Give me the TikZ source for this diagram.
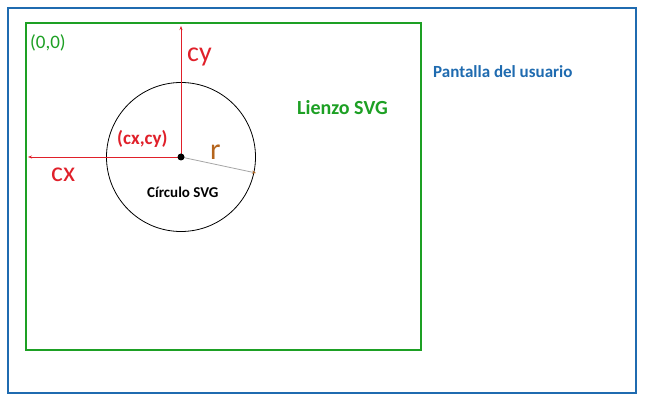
\documentclass[tikz,border=0pt]{standalone}
\usepackage{fontspec}
\setmainfont{Carlito}
\usetikzlibrary{arrows.meta}
\definecolor{bl}{HTML}{1F6BB0}
\definecolor{gr}{HTML}{1DA024}
\definecolor{rd}{HTML}{E0202A}
\definecolor{br}{HTML}{B5651D}
\tikzset{axis/.style={rd,line width=0.9pt,-{Stealth[length=4pt,width=3pt]}},
lbl/.style={inner sep=0pt,anchor=west}}
\begin{document}
\begin{tikzpicture}[x=1pt,y=-1pt]
\useasboundingbox (0,0) rectangle (646,403);
\fill[white] (0,0) rectangle (646,403);
\draw[bl,line width=1.6pt] (8,8) rectangle (636,393);
\draw[gr,line width=1.8pt] (26,23) rectangle (421,350);
\node[draw,circle,minimum size=149pt,line width=0.8pt,inner sep=0pt] (c) at (181,157) {};
\coordinate (top) at (181,26);
\coordinate (left) at (28,157);
\coordinate (rr) at (256,173);
\draw[axis] (c.center) -- (top);
\draw[axis] (c.center) -- (left);
\draw[gray!70,line width=0.8pt,-{Stealth[length=4pt,width=3pt,br]}] (c.center) -- (rr);
\fill[black] (c.center) circle (3.5pt);
\node[lbl,gr,font=\fontsize{19}{19}\selectfont] (o) at (30,43) {(0,0)};
\node[lbl,rd,font=\fontsize{28}{28}\selectfont] (cy) at (187,57) {cy};
\node[lbl,rd,font=\fontsize{28}{28}\selectfont] (cx) at (51,175) {cx};
\node[lbl,rd,font=\bfseries\fontsize{19}{19}\selectfont] (cc) at (117,139) {(cx,cy)};
\node[lbl,br,font=\fontsize{30}{30}\selectfont] (r) at (210,152) {r};
\node[lbl,font=\bfseries\fontsize{15}{15}\selectfont] (cs) at (147,192) {Círculo SVG};
\node[lbl,gr,font=\bfseries\fontsize{20}{20}\selectfont] (lz) at (297,108) {Lienzo SVG};
\node[lbl,bl,font=\bfseries\fontsize{17}{17}\selectfont] (pu) at (433,72) {Pantalla del usuario};
\end{tikzpicture}
\end{document}
